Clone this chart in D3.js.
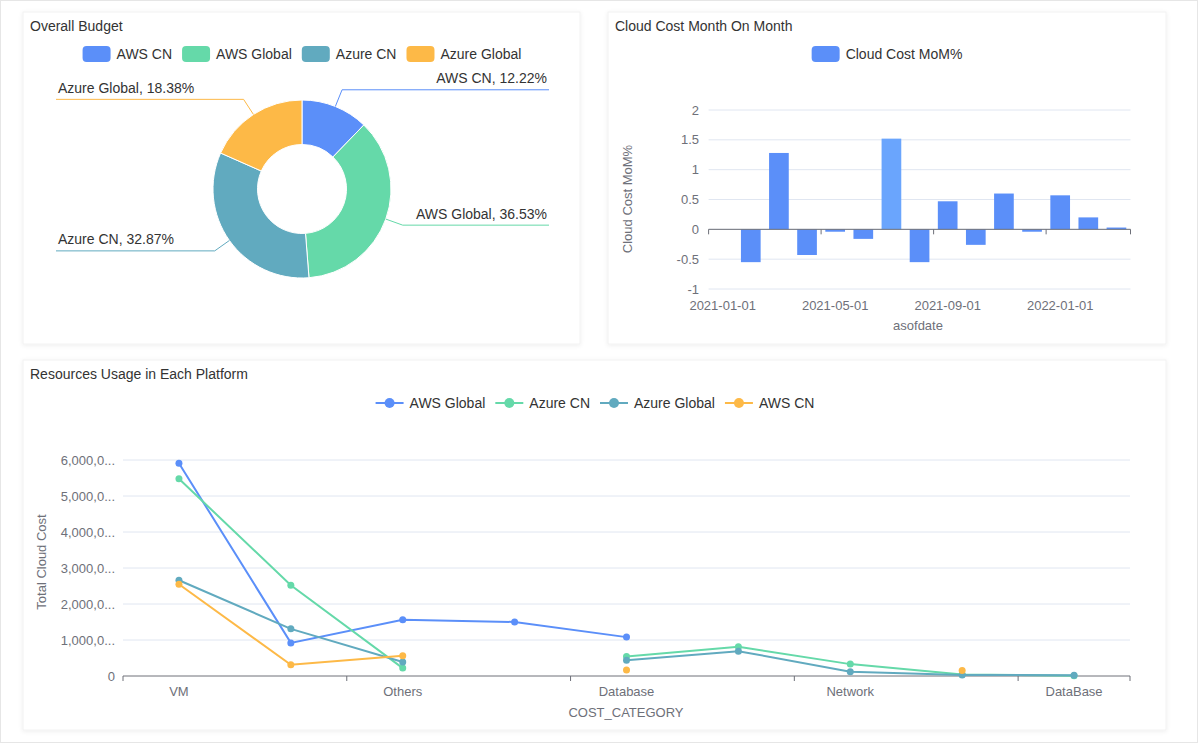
<!DOCTYPE html>
<html>
<head>
<meta charset="utf-8">
<script src="https://cdn.jsdelivr.net/npm/d3@7"></script>
<style>
  html, body { margin: 0; padding: 0; background: #fff; }
  svg { display: block; font-family: "Liberation Sans", Arial, sans-serif; }
</style>
</head>
<body>
<script>
// ---- data ----
var platforms = ["AWS CN", "AWS Global", "Azure CN", "Azure Global"];
var budgetShare = [12.22, 36.53, 32.87, 18.38];

var months = ["2021-01-01", "2021-02-01", "2021-03-01", "2021-04-01", "2021-05-01",
  "2021-06-01", "2021-07-01", "2021-08-01", "2021-09-01", "2021-10-01",
  "2021-11-01", "2021-12-01", "2022-01-01", "2022-02-01", "2022-03-01"];
var momValues = [null, -0.55, 1.28, -0.43, -0.04, -0.16, 1.52, -0.55, 0.47, -0.26,
  0.60, -0.04, 0.57, 0.20, 0.03];
var momTicks = [-1, -0.5, 0, 0.5, 1, 1.5, 2];

var costCategories = ["VM", "Storage", "Others", "Analytics", "Database",
  "Container", "Network", "Security", "DataBase"];
var lineSeriesNames = ["AWS Global", "Azure CN", "Azure Global", "AWS CN"];
var awsGlobalCost   = [5910000, 920000, 1560000, 1500000, 1080000, null, null, null, null];
var azureCnCost     = [5480000, 2520000, 220000, null, 540000, 810000, 330000, 40000, 10000];
var azureGlobalCost = [2660000, 1310000, 390000, null, 440000, 690000, 120000, 30000, 20000];
var awsCnCost       = [2550000, 310000, 560000, null, 170000, null, null, 150000, null];
var costTicks = [0, 1000000, 2000000, 3000000, 4000000, 5000000, 6000000];

var palette = ["#5b8ff9", "#65d9a9", "#61aabf", "#fdb947"];
var pieColor = d3.scaleOrdinal().domain(platforms).range(palette);
var lineColor = d3.scaleOrdinal().domain(lineSeriesNames).range(palette);

var textColor = "#333", axisText = "#6e7079", gridColor = "#e0e6f1";

var svg = d3.select("body").append("svg")
    .attr("width", 1200)
    .attr("height", 744);

var f = svg.append("defs").append("filter").attr("id", "shadow")
    .attr("x", "-5%").attr("y", "-5%").attr("width", "110%").attr("height", "110%");
f.append("feDropShadow").attr("dx", 0).attr("dy", 1).attr("stdDeviation", 2)
    .attr("flood-color", "#000").attr("flood-opacity", 0.07);

svg.append("rect").attr("x", 0.5).attr("y", 0.5).attr("width", 1197).attr("height", 742)
    .attr("fill", "#fff").attr("stroke", "#e6e6e6");

var cards = [
  { x: 23, y: 12, w: 557, h: 332, title: "Overall Budget" },
  { x: 608, y: 12, w: 558, h: 332, title: "Cloud Cost Month On Month" },
  { x: 23, y: 360, w: 1143, h: 370, title: "Resources Usage in Each Platform" }
];
svg.selectAll(".card").data(cards).enter().append("rect")
    .attr("x", d => d.x).attr("y", d => d.y)
    .attr("width", d => d.w).attr("height", d => d.h)
    .attr("fill", "#fff").attr("stroke", "#f2f2f2")
    .attr("filter", "url(#shadow)");
svg.selectAll(".ctitle").data(cards).enter().append("text")
    .attr("x", d => d.x + 7).attr("y", d => d.y + 19)
    .attr("font-size", 14).attr("fill", textColor)
    .text(d => d.title);

// legend helper: lays out items centred on cx
function legend(g, names, colors, cx, cy, kind) {
  var items = g.selectAll("g").data(names).enter().append("g");
  items.each(function (d) {
    var it = d3.select(this);
    if (kind === "rect") {
      it.append("rect").attr("x", 0).attr("y", -8).attr("width", 28).attr("height", 16)
        .attr("rx", 4).attr("fill", colors(d));
    } else {
      it.append("line").attr("x1", 0).attr("x2", 28).attr("y1", 0).attr("y2", 0)
        .attr("stroke", colors(d)).attr("stroke-width", 2);
      it.append("circle").attr("cx", 14).attr("cy", 0).attr("r", 5).attr("fill", colors(d));
    }
    it.append("text").attr("x", 34).attr("y", 5).attr("font-size", 14)
      .attr("fill", textColor).text(d);
  });
  var widths = [];
  items.each(function () { widths.push(34 + d3.select(this).select("text").node().getComputedTextLength()); });
  var total = d3.sum(widths) + 10 * (widths.length - 1);
  var x = cx - total / 2;
  items.attr("transform", function (d, i) {
    var t = "translate(" + x + "," + cy + ")";
    x += widths[i] + 10;
    return t;
  });
}

// ---- donut ----
var pc = { x: 302, y: 189 }, outerR = 89, innerR = 44.5;
var pieG = svg.append("g").attr("transform", "translate(" + pc.x + "," + pc.y + ")");
var pie = d3.pie().sort(null).value(d => d.v);
var arcs = pie(platforms.map((p, i) => ({ name: p, v: budgetShare[i] })));
var arc = d3.arc().innerRadius(innerR).outerRadius(outerR);
pieG.selectAll("path").data(arcs).enter().append("path")
    .attr("d", arc).attr("fill", d => pieColor(d.data.name))
    .attr("stroke", "#fff").attr("stroke-width", 1);

var total = d3.sum(budgetShare);
arcs.forEach(function (d) {
  var a = (d.startAngle + d.endAngle) / 2;
  var p0 = [Math.sin(a) * outerR, -Math.cos(a) * outerR];
  var p1 = [Math.sin(a) * (outerR + 18), -Math.cos(a) * (outerR + 18)];
  var right = Math.sin(a) > 0;
  var edge = right ? 549 - pc.x : 56 - pc.x;
  pieG.append("polyline")
    .attr("points", [p0, p1, [edge, p1[1]]].map(p => p.join(",")).join(" "))
    .attr("fill", "none").attr("stroke", pieColor(d.data.name)).attr("stroke-width", 1);
  pieG.append("text")
    .attr("x", right ? edge - 2 : edge + 2).attr("y", p1[1] - 6.5)
    .attr("text-anchor", right ? "end" : "start")
    .attr("font-size", 14).attr("fill", textColor)
    .text(d.data.name + ", " + (d.data.v / total * 100).toFixed(2) + "%");
});

legend(svg.append("g"), platforms, pieColor, 302, 54, "rect");

// ---- MoM bars ----
var bx = d3.scaleBand().domain(months).range([708.6, 1130.5]);
var by = d3.scaleLinear().domain([-1, 2]).range([289, 110]);
var barG = svg.append("g");

barG.selectAll(".grid").data(momTicks).enter().append("line")
    .attr("x1", 708.6).attr("x2", 1130.5)
    .attr("y1", d => by(d)).attr("y2", d => by(d))
    .attr("stroke", gridColor);
barG.selectAll(".ylab").data(momTicks).enter().append("text")
    .attr("x", 699).attr("y", d => by(d) + 4.5)
    .attr("text-anchor", "end").attr("font-size", 13).attr("fill", axisText)
    .text(d => d);

var bw = bx.bandwidth() * 0.7;
barG.selectAll(".bar").data(months.map((m, i) => ({ m: m, v: momValues[i] })).filter(d => d.v != null))
  .enter().append("rect")
    .attr("x", d => bx(d.m) + (bx.bandwidth() - bw) / 2)
    .attr("width", bw)
    .attr("y", d => by(Math.max(0, d.v)))
    .attr("height", d => Math.abs(by(d.v) - by(0)))
    .attr("fill", d => d.m === "2021-07-01" ? "#6aa5fd" : palette[0]);

barG.append("line").attr("x1", 708.6).attr("x2", 1130.5)
    .attr("y1", by(0)).attr("y2", by(0)).attr("stroke", axisText);
var tickIdx = months.map((m, i) => i).filter(i => i % 4 === 0);
barG.selectAll(".btick").data(tickIdx.map(i => bx(months[i])).concat([1130.5])).enter().append("line")
    .attr("x1", d => d).attr("x2", d => d)
    .attr("y1", by(0)).attr("y2", by(0) + 5).attr("stroke", axisText);
barG.selectAll(".xlab").data(tickIdx).enter().append("text")
    .attr("x", i => bx(months[i]) + bx.bandwidth() / 2).attr("y", 310)
    .attr("text-anchor", "middle").attr("font-size", 13).attr("fill", axisText)
    .text(i => months[i]);
barG.append("text").attr("x", 918).attr("y", 330).attr("text-anchor", "middle")
    .attr("font-size", 13).attr("fill", axisText).text("asofdate");
barG.append("text").attr("transform", "translate(632,199) rotate(-90)")
    .attr("text-anchor", "middle").attr("font-size", 13).attr("fill", axisText)
    .text("Cloud Cost MoM%");

legend(svg.append("g"), ["Cloud Cost MoM%"], d3.scaleOrdinal().range([palette[0]]), 887, 54, "rect");

// ---- resources usage lines ----
var lx = d3.scaleBand().domain(costCategories).range([123, 1130]);
var ly = d3.scaleLinear().domain([0, 6000000]).range([676, 460]);
var lineG = svg.append("g");
var fmt = d3.format(",");

lineG.selectAll(".grid").data(costTicks.slice(1)).enter().append("line")
    .attr("x1", 123).attr("x2", 1130)
    .attr("y1", d => ly(d)).attr("y2", d => ly(d)).attr("stroke", gridColor);
lineG.selectAll(".ylab").data(costTicks).enter().append("text")
    .attr("x", 115).attr("y", d => ly(d) + 4.5)
    .attr("text-anchor", "end").attr("font-size", 13).attr("fill", axisText)
    .text(function (d) { var s = fmt(d); return s.length > 8 ? s.slice(0, 7) + "..." : s; });

lineG.append("line").attr("x1", 123).attr("x2", 1130)
    .attr("y1", ly(0)).attr("y2", ly(0)).attr("stroke", axisText);
var lTickIdx = costCategories.map((c, i) => i).filter(i => i % 2 === 0);
lineG.selectAll(".ltick").data(lTickIdx.map(i => lx(costCategories[i])).concat([1130])).enter().append("line")
    .attr("x1", d => d).attr("x2", d => d)
    .attr("y1", ly(0)).attr("y2", ly(0) + 5).attr("stroke", axisText);
lineG.selectAll(".xlab").data(lTickIdx).enter().append("text")
    .attr("x", i => lx(costCategories[i]) + lx.bandwidth() / 2).attr("y", 696)
    .attr("text-anchor", "middle").attr("font-size", 13).attr("fill", axisText)
    .text(i => costCategories[i]);
lineG.append("text").attr("x", 626).attr("y", 717).attr("text-anchor", "middle")
    .attr("font-size", 13).attr("fill", axisText).text("COST_CATEGORY");
lineG.append("text").attr("transform", "translate(46,562) rotate(-90)")
    .attr("text-anchor", "middle").attr("font-size", 13).attr("fill", axisText)
    .text("Total Cloud Cost");

var lineData = [awsGlobalCost, azureCnCost, azureGlobalCost, awsCnCost];
var line = d3.line()
    .defined(d => d.v != null)
    .x(d => lx(d.c) + lx.bandwidth() / 2)
    .y(d => ly(d.v));
lineData.forEach(function (vals, s) {
  var pts = costCategories.map((c, i) => ({ c: c, v: vals[i] }));
  var name = lineSeriesNames[s];
  lineG.append("path").datum(pts).attr("d", line)
    .attr("fill", "none").attr("stroke", lineColor(name)).attr("stroke-width", 2);
  lineG.selectAll(".pt" + s).data(pts.filter(d => d.v != null)).enter().append("circle")
    .attr("cx", d => lx(d.c) + lx.bandwidth() / 2).attr("cy", d => ly(d.v))
    .attr("r", 3.5).attr("fill", lineColor(name));
});

legend(svg.append("g"), lineSeriesNames, lineColor, 595, 403, "line");
</script>
</body>
</html>
